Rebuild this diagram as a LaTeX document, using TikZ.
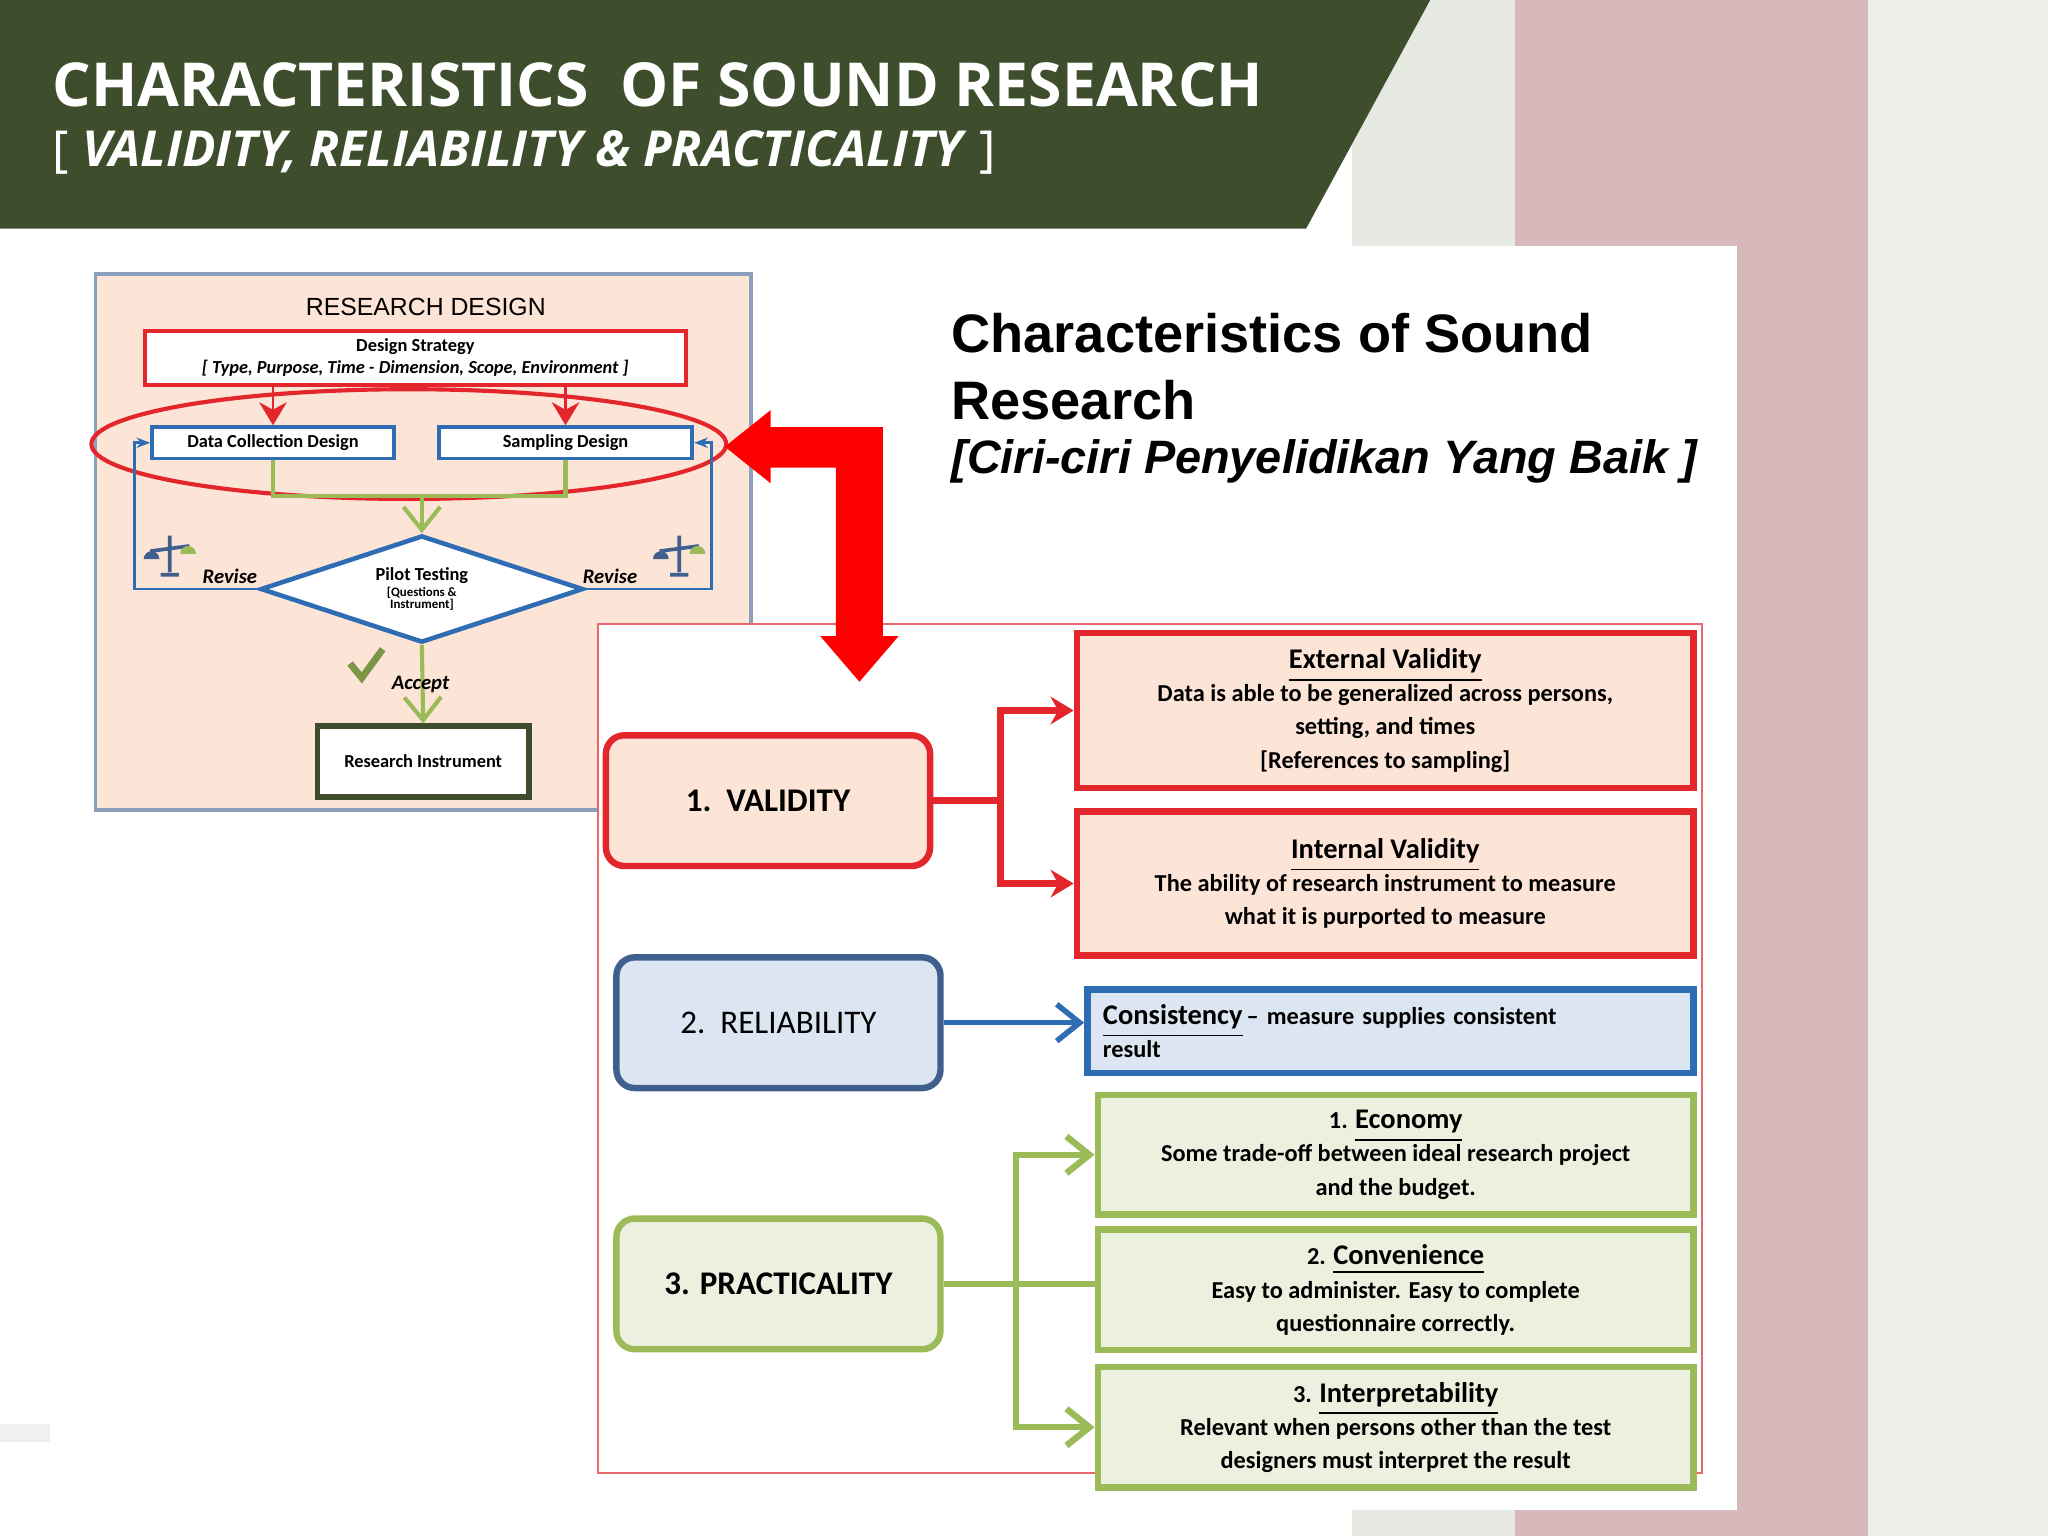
\documentclass[tikz,border=0pt]{standalone}
\usepackage{fontspec}
\setmainfont{Carlito}
\newfontfamily\arialfont{Liberation Sans}
\newfontfamily\bannerfont{Open Sans}
\usetikzlibrary{shapes.geometric,positioning,calc,arrows.meta}
\definecolor{banner}{HTML}{3E4E2D}
\definecolor{peach}{HTML}{FCE4D6}
\definecolor{lblue}{HTML}{DCE6F2}
\definecolor{lgreen}{HTML}{EBF1DE}
\definecolor{dblue}{HTML}{2E6DB4}
\definecolor{nblue}{HTML}{3F5F8F}
\definecolor{ogreen}{HTML}{9BBB59}
\definecolor{pinkband}{HTML}{D7B9BB}
\definecolor{greyband}{HTML}{E6E8E2}
\definecolor{redline}{HTML}{E3262B}
\tikzset{
  main box/.style={draw,rounded corners=4pt,line width=1.4pt,minimum width=2.48cm,minimum height=1cm,font=\fontsize{7.2}{9}\selectfont\bfseries},
  info box/.style={draw,line width=1.4pt,anchor=north west,align=center,font=\fontsize{5.3}{7.2}\selectfont\bfseries},
  small box/.style={draw,line width=0.8pt,fill=white,font=\fontsize{4}{5}\selectfont\bfseries},
  red arrow/.style={draw=redline,line width=1.2pt,-{Stealth[length=5pt,width=6pt]}},
  green arrow/.style={draw=ogreen,line width=1.4pt,-{Straight Barb[length=5pt,width=8pt]}},
}
\begin{document}
\begin{tikzpicture}[x=0.01cm,y=-0.01cm]
  \useasboundingbox (0,0) rectangle (1568,1176);
  % background bands
  \fill[greyband] (1035,0) rectangle (1160,1176);
  \fill[pinkband] (1160,0) rectangle (1430,1176);
  \fill[greyband!70!white] (1430,0) rectangle (1568,1176);
  \fill[banner] (0,0) -- (1095,0) -- (1000,175) -- (0,175) -- cycle;
  \fill[white] (60,188) rectangle (1330,1156);
  \node[anchor=west,text=white,font=\bannerfont\bfseries\fontsize{13.2}{16}\selectfont] (title) at (28,65) {CHARACTERISTICS\ \ OF SOUND RESEARCH};
  \node[anchor=west,text=white,font=\bannerfont\fontsize{10.8}{14}\selectfont] (subtitle) at (28,117) {[ \textbf{\textit{VALIDITY, RELIABILITY \& PRACTICALITY}} ]};

  % research design panel
  \draw[fill=peach,draw=nblue!60,line width=0.8pt] (73,210) rectangle (575,620);
  \node[font=\arialfont\fontsize{5.4}{7}\selectfont] (rd) at (326,235) {RESEARCH DESIGN};
  \node[draw=redline,line width=0.8pt,fill=white,minimum width=4.14cm,minimum height=0.41cm,inner sep=1pt,align=center,font=\fontsize{4}{4.8}\selectfont\bfseries] (strategy) at (318,274) {Design Strategy\\ \textit{[ Type, Purpose, Time - Dimension, Scope, Environment ]}};
  \node[small box,draw=dblue,minimum width=1.85cm,minimum height=0.24cm,inner sep=1pt] (dcd) at (209,339) {Data Collection Design};
  \node[small box,draw=dblue,minimum width=1.94cm,minimum height=0.24cm,inner sep=1pt] (sd) at (433,339) {Sampling Design};
  \draw[redline,line width=0.9pt] (313,340) ellipse (243 and 42);
  \draw[red arrow,line width=0.6pt] (strategy.south -| dcd) -- (dcd);
  \draw[red arrow,line width=0.6pt] (strategy.south -| sd) -- (sd);
  \node[diamond,aspect=3,draw=dblue,line width=1pt,fill=white,minimum width=2.47cm,minimum height=0.82cm,inner sep=0pt,align=center,font=\fontsize{4}{4.5}\selectfont\bfseries] (pilot) at (323,451) {Pilot Testing\\[-1pt]{\fontsize{2.8}{3}\selectfont[Questions \&}\\[-2pt]{\fontsize{2.8}{3}\selectfont Instrument]}};
  \coordinate (join) at (323,380);
  \draw[ogreen,line width=0.9pt] (dcd.south) |- (join) -| (sd.south);
  \draw[green arrow,line width=0.9pt] (join) -- (pilot.north);
  \draw[dblue,line width=0.6pt,-{Stealth[length=3pt]}] (pilot.west) -| (103,339) -- (dcd.west);
  \draw[dblue,line width=0.6pt,-{Stealth[length=3pt]}] (pilot.east) -| (545,339) -- (sd.east);
  \node[font=\fontsize{4.5}{5}\selectfont\bfseries\itshape] (rev1) at (176,441) {Revise};
  \node[font=\fontsize{4.5}{5}\selectfont\bfseries\itshape] (rev2) at (467,441) {Revise};
  \foreach \sx in {130,520}{
    \draw[nblue,line width=0.8pt] (\sx-15,422) -- (\sx+15,418) (\sx,410) -- (\sx,438) (\sx-7,440) -- (\sx+7,440);
    \fill[nblue] (\sx-20,428) arc (180:360:6) -- cycle;
    \fill[ogreen] (\sx+8,424) arc (180:360:6) -- cycle;
  }
  \node[small box,draw=banner,line width=1.2pt,minimum width=1.62cm,minimum height=0.54cm] (instr) at (324,583) {Research Instrument};
  \draw[green arrow,line width=0.9pt] (pilot.south) -- (instr.north);
  \draw[ogreen!80!black,line width=1.5pt] (268,508) -- (277,519) -- (293,497);
  \node[font=\fontsize{4.5}{5}\selectfont\bfseries\itshape] (accept) at (322,524) {Accept};

  % heading
  \node[anchor=west,font=\arialfont\bfseries\fontsize{11.8}{15}\selectfont] (h1) at (716,255) {Characteristics of Sound};
  \node[anchor=west,font=\arialfont\bfseries\fontsize{11.8}{15}\selectfont] (h2) at (716,306) {Research};
  \node[anchor=west,font=\arialfont\bfseries\itshape\fontsize{10.2}{14}\selectfont] (h3) at (716,353) {[Ciri-ciri Penyelidikan Yang Baik ]};

  % lower panel
  \draw[fill=white,draw=redline!70,line width=0.5pt] (458,478) rectangle (1303,1128);

  % big red arrow
  \fill[red] (555,342) -- (590,314) -- (590,327) -- (676,327) -- (676,487) -- (688,487)
    -- (658,522) -- (628,487) -- (640,487) -- (640,358) -- (590,358) -- (590,370) -- cycle;

  \node[main box,draw=redline,fill=peach] (validity) at (588,613) {1.\ \ VALIDITY};
  \node[info box,draw=redline,fill=peach,minimum width=4.72cm,minimum height=1.19cm] (ext) at (822,482) {\underline{\fontsize{6.2}{8}\selectfont External Validity}\\Data is able to be generalized across persons,\\setting, and times\\{[}References to sampling{]}};
  \node[info box,draw=redline,fill=peach,minimum width=4.72cm,minimum height=1.1cm] (int) at (822,619) {\underline{\fontsize{6.2}{8}\selectfont Internal Validity}\\The ability of research instrument to measure\\what it is purported to measure};
  \coordinate (vsplit) at (766,613);
  \draw[redline,line width=1.4pt] (validity.east) -- (vsplit);
  \draw[red arrow,line width=1.4pt] (vsplit) |- (ext.west);
  \draw[red arrow,line width=1.4pt] (vsplit) |- (int.west);

  \node[main box,draw=nblue,fill=lblue,font=\fontsize{7.2}{9}\selectfont] (reliab) at (596,783) {2.\ \ RELIABILITY};
  \node[info box,draw=dblue,fill=lblue,minimum width=4.64cm,minimum height=0.54cm,align=left,text width=4.4cm] (cons) at (830,755) {\underline{\fontsize{6.2}{8}\selectfont Consistency}\,-- measure supplies consistent\\result};
  \draw[dblue,line width=1.2pt,-{Straight Barb[length=5pt,width=8pt]}] (reliab.east) -- (reliab.east -| cons.west);

  \node[main box,draw=ogreen,fill=lgreen] (pract) at (596,983) {3. PRACTICALITY};
  \node[info box,draw=ogreen,fill=lgreen,minimum width=4.56cm,minimum height=0.86cm] (econ) at (838,836) {1. \underline{\fontsize{6.2}{8}\selectfont Economy}\\Some trade-off between ideal research project\\and the budget.};
  \node[info box,draw=ogreen,fill=lgreen,minimum width=4.56cm,minimum height=0.88cm] (conv) at (838,939) {2. \underline{\fontsize{6.2}{8}\selectfont Convenience}\\Easy to administer. Easy to complete\\questionnaire correctly.};
  \node[info box,draw=ogreen,fill=lgreen,minimum width=4.56cm,minimum height=0.8cm] (interp) at (838,1044) {3. \underline{\fontsize{6.2}{8}\selectfont Interpretability}\\Relevant when persons other than the test\\designers must interpret the result};
  \coordinate (psplit) at (778,983);
  \draw[ogreen,line width=1.4pt] (pract.east) -- (conv.west |- pract.east);
  \draw[green arrow] (psplit) |- (econ.west);
  \draw[green arrow] (psplit) |- (interp.west);
  \fill[greyband!60!white] (0,1090) rectangle (38,1104);
\end{tikzpicture}
\end{document}
